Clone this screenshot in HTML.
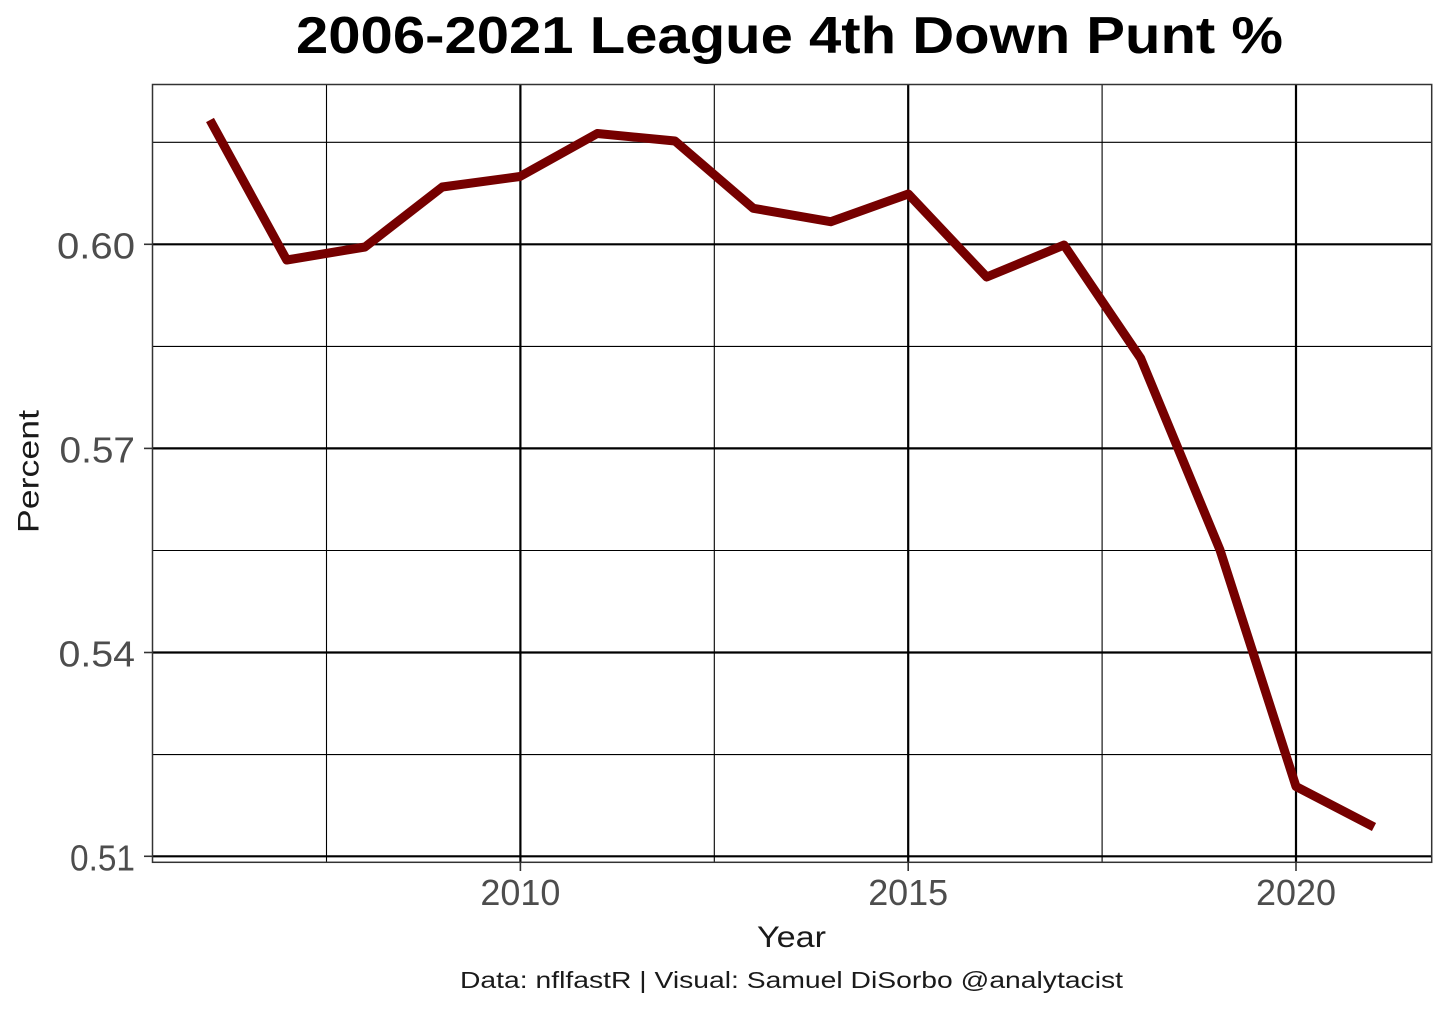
<!DOCTYPE html>
<html>
<head>
<meta charset="utf-8">
<style>
  html, body { margin: 0; padding: 0; background: #ffffff; }
  svg { display: block; }
  text { font-family: "Liberation Sans", "DejaVu Sans", sans-serif; }
</style>
</head>
<body>
<svg width="1449" height="1012" viewBox="0 0 1449 1012" xmlns="http://www.w3.org/2000/svg">
  <rect x="0" y="0" width="1449" height="1012" fill="#ffffff"/>

  <!-- Title -->
  <text x="296" y="53" font-size="52" font-weight="bold" fill="#000" textLength="987" lengthAdjust="spacingAndGlyphs">2006-2021 League 4th Down Punt %</text>

  <!-- minor gridlines -->
  <g stroke="#000" stroke-width="1.1" fill="none">
    <line x1="152" y1="142.3" x2="1431.7" y2="142.3"/>
    <line x1="152" y1="346.4" x2="1431.7" y2="346.4"/>
    <line x1="152" y1="550.5" x2="1431.7" y2="550.5"/>
    <line x1="152" y1="754.6" x2="1431.7" y2="754.6"/>
    <line x1="326.5" y1="84.5" x2="326.5" y2="862.3"/>
    <line x1="714.3" y1="84.5" x2="714.3" y2="862.3"/>
    <line x1="1102.1" y1="84.5" x2="1102.1" y2="862.3"/>
  </g>
  <!-- major gridlines -->
  <g stroke="#000" stroke-width="2.2" fill="none">
    <line x1="152" y1="244.3" x2="1431.7" y2="244.3"/>
    <line x1="152" y1="448.4" x2="1431.7" y2="448.4"/>
    <line x1="152" y1="652.5" x2="1431.7" y2="652.5"/>
    <line x1="152" y1="856.3" x2="1431.7" y2="856.3"/>
    <line x1="520.4" y1="84.5" x2="520.4" y2="862.3"/>
    <line x1="908.2" y1="84.5" x2="908.2" y2="862.3"/>
    <line x1="1296" y1="84.5" x2="1296" y2="862.3"/>
  </g>

  <!-- data line -->
  <polyline fill="none" stroke="#760000" stroke-width="9" stroke-linejoin="round" stroke-linecap="butt"
    points="210,120 286.7,260 365,247 442.3,187 520,176.5 597.3,133.5 675,141 753.3,208.3 830.7,221.7 908.3,194 986.7,277 1064,245 1140.7,358.3 1220,550 1296,786.5 1374,827"/>

  <!-- panel border -->
  <rect x="152.5" y="84.5" width="1279.2" height="777.8" fill="none" stroke="#333333" stroke-width="1.5"/>

  <!-- ticks -->
  <g stroke="#333333" stroke-width="1.6">
    <line x1="144" y1="244.3" x2="152" y2="244.3"/>
    <line x1="144" y1="448.4" x2="152" y2="448.4"/>
    <line x1="144" y1="652.5" x2="152" y2="652.5"/>
    <line x1="144" y1="856.3" x2="152" y2="856.3"/>
    <line x1="520.4" y1="862.3" x2="520.4" y2="871"/>
    <line x1="908.2" y1="862.3" x2="908.2" y2="871"/>
    <line x1="1296" y1="862.3" x2="1296" y2="871"/>
  </g>

  <!-- y tick labels -->
  <g font-size="36" fill="#4d4d4d">
    <text x="57" y="258.5" textLength="78" lengthAdjust="spacingAndGlyphs">0.60</text>
    <text x="59.5" y="462.5" textLength="75.5" lengthAdjust="spacingAndGlyphs">0.57</text>
    <text x="58.5" y="666.5" textLength="76.5" lengthAdjust="spacingAndGlyphs">0.54</text>
    <text x="70" y="870.5" textLength="65" lengthAdjust="spacingAndGlyphs">0.51</text>
  </g>

  <!-- x tick labels -->
  <g font-size="36" fill="#4d4d4d">
    <text x="480.4" y="905" textLength="80" lengthAdjust="spacingAndGlyphs">2010</text>
    <text x="868.2" y="905" textLength="80" lengthAdjust="spacingAndGlyphs">2015</text>
    <text x="1256" y="905" textLength="80" lengthAdjust="spacingAndGlyphs">2020</text>
  </g>

  <!-- axis titles -->
  <text x="757" y="947" font-size="30" fill="#1a1a1a" textLength="69" lengthAdjust="spacingAndGlyphs">Year</text>
  <text transform="translate(38.5,533) rotate(-90)" x="0" y="0" font-size="30" fill="#1a1a1a" textLength="123" lengthAdjust="spacingAndGlyphs">Percent</text>

  <!-- caption -->
  <text x="460" y="988" font-size="23" fill="#1a1a1a" textLength="663" lengthAdjust="spacingAndGlyphs">Data: nflfastR | Visual: Samuel DiSorbo @analytacist</text>
</svg>
</body>
</html>
